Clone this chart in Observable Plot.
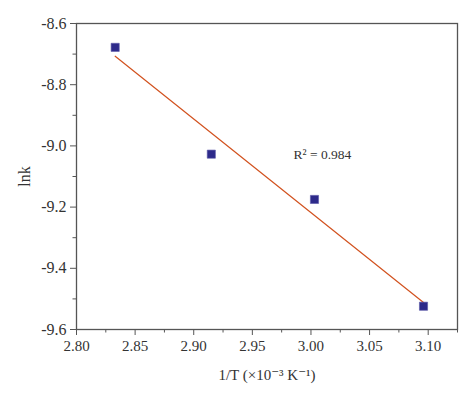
<!DOCTYPE html>
<html>
<head>
<meta charset="utf-8">
<script src="https://cdn.jsdelivr.net/npm/d3@7"></script>
<script src="https://cdn.jsdelivr.net/npm/@observablehq/plot@0.6"></script>
<style>
  html, body { margin: 0; padding: 0; background: #fff; }
  #chart svg { display: block; }
</style>
</head>
<body>
<div id="chart"></div>
<script>
const invT = [2.833, 2.915, 3.003, 3.096];
const lnk = [-8.678, -9.027, -9.175, -9.524];
const xTicks = [2.80, 2.85, 2.90, 2.95, 3.00, 3.05, 3.10];
const xMinor = [2.825, 2.875, 2.925, 2.975, 3.025, 3.075, 3.125];
const yTicks = [-8.6, -8.8, -9.0, -9.2, -9.4, -9.6];
const yMinor = [-8.7, -8.9, -9.1, -9.3, -9.5];
const annotation = "R² = 0.984";

const data = invT.map((x, i) => ({x, y: lnk[i]}));
const ink = "#555";

const chart = Plot.plot({
  width: 474,
  height: 395,
  marginLeft: 76,
  marginRight: 17,
  marginTop: 23,
  marginBottom: 66,
  style: {fontFamily: "'Liberation Serif', 'DejaVu Serif', serif", fontSize: "15px", color: "#333", background: "#fff"},
  x: {domain: [2.8, 3.125]},
  y: {domain: [-9.6, -8.6]},
  marks: [
    Plot.frame({stroke: ink, strokeWidth: 1.3}),
    Plot.axisX({ticks: xTicks, tickSize: 6, tickPadding: 5, stroke: ink, tickFormat: d => d.toFixed(2), fontSize: 15,
      label: "1/T (×10⁻³ K⁻¹)", labelAnchor: "center", labelArrow: "none", labelOffset: 50}),
    Plot.axisX({ticks: xMinor, tickSize: 3.5, stroke: ink, text: null, label: null}),
    Plot.axisY({ticks: yTicks, tickSize: 6, tickPadding: 4, stroke: ink, tickFormat: d => d.toFixed(1), fontSize: 15,
      label: "lnk", labelAnchor: "center", labelArrow: "none", labelOffset: 58, fontSize: 16}),
    Plot.axisY({ticks: yMinor, tickSize: 3.5, stroke: ink, text: null, label: null}),
    Plot.linearRegressionY(data, {x: "x", y: "y", ci: 0, stroke: "#d2521f", strokeWidth: 1.2}),
    Plot.dot(data, {x: "x", y: "y", symbol: "square", r: 4.6, fill: "#2d2a8a", stroke: "#5a58a8", strokeWidth: 0.6}),
    Plot.text([annotation], {frameAnchor: "top-left", dx: 217, dy: 126, text: d => d, fontSize: 13.5, textAnchor: "start", fill: "#333"})
  ]
});
document.getElementById("chart").appendChild(chart);
</script>
</body>
</html>
